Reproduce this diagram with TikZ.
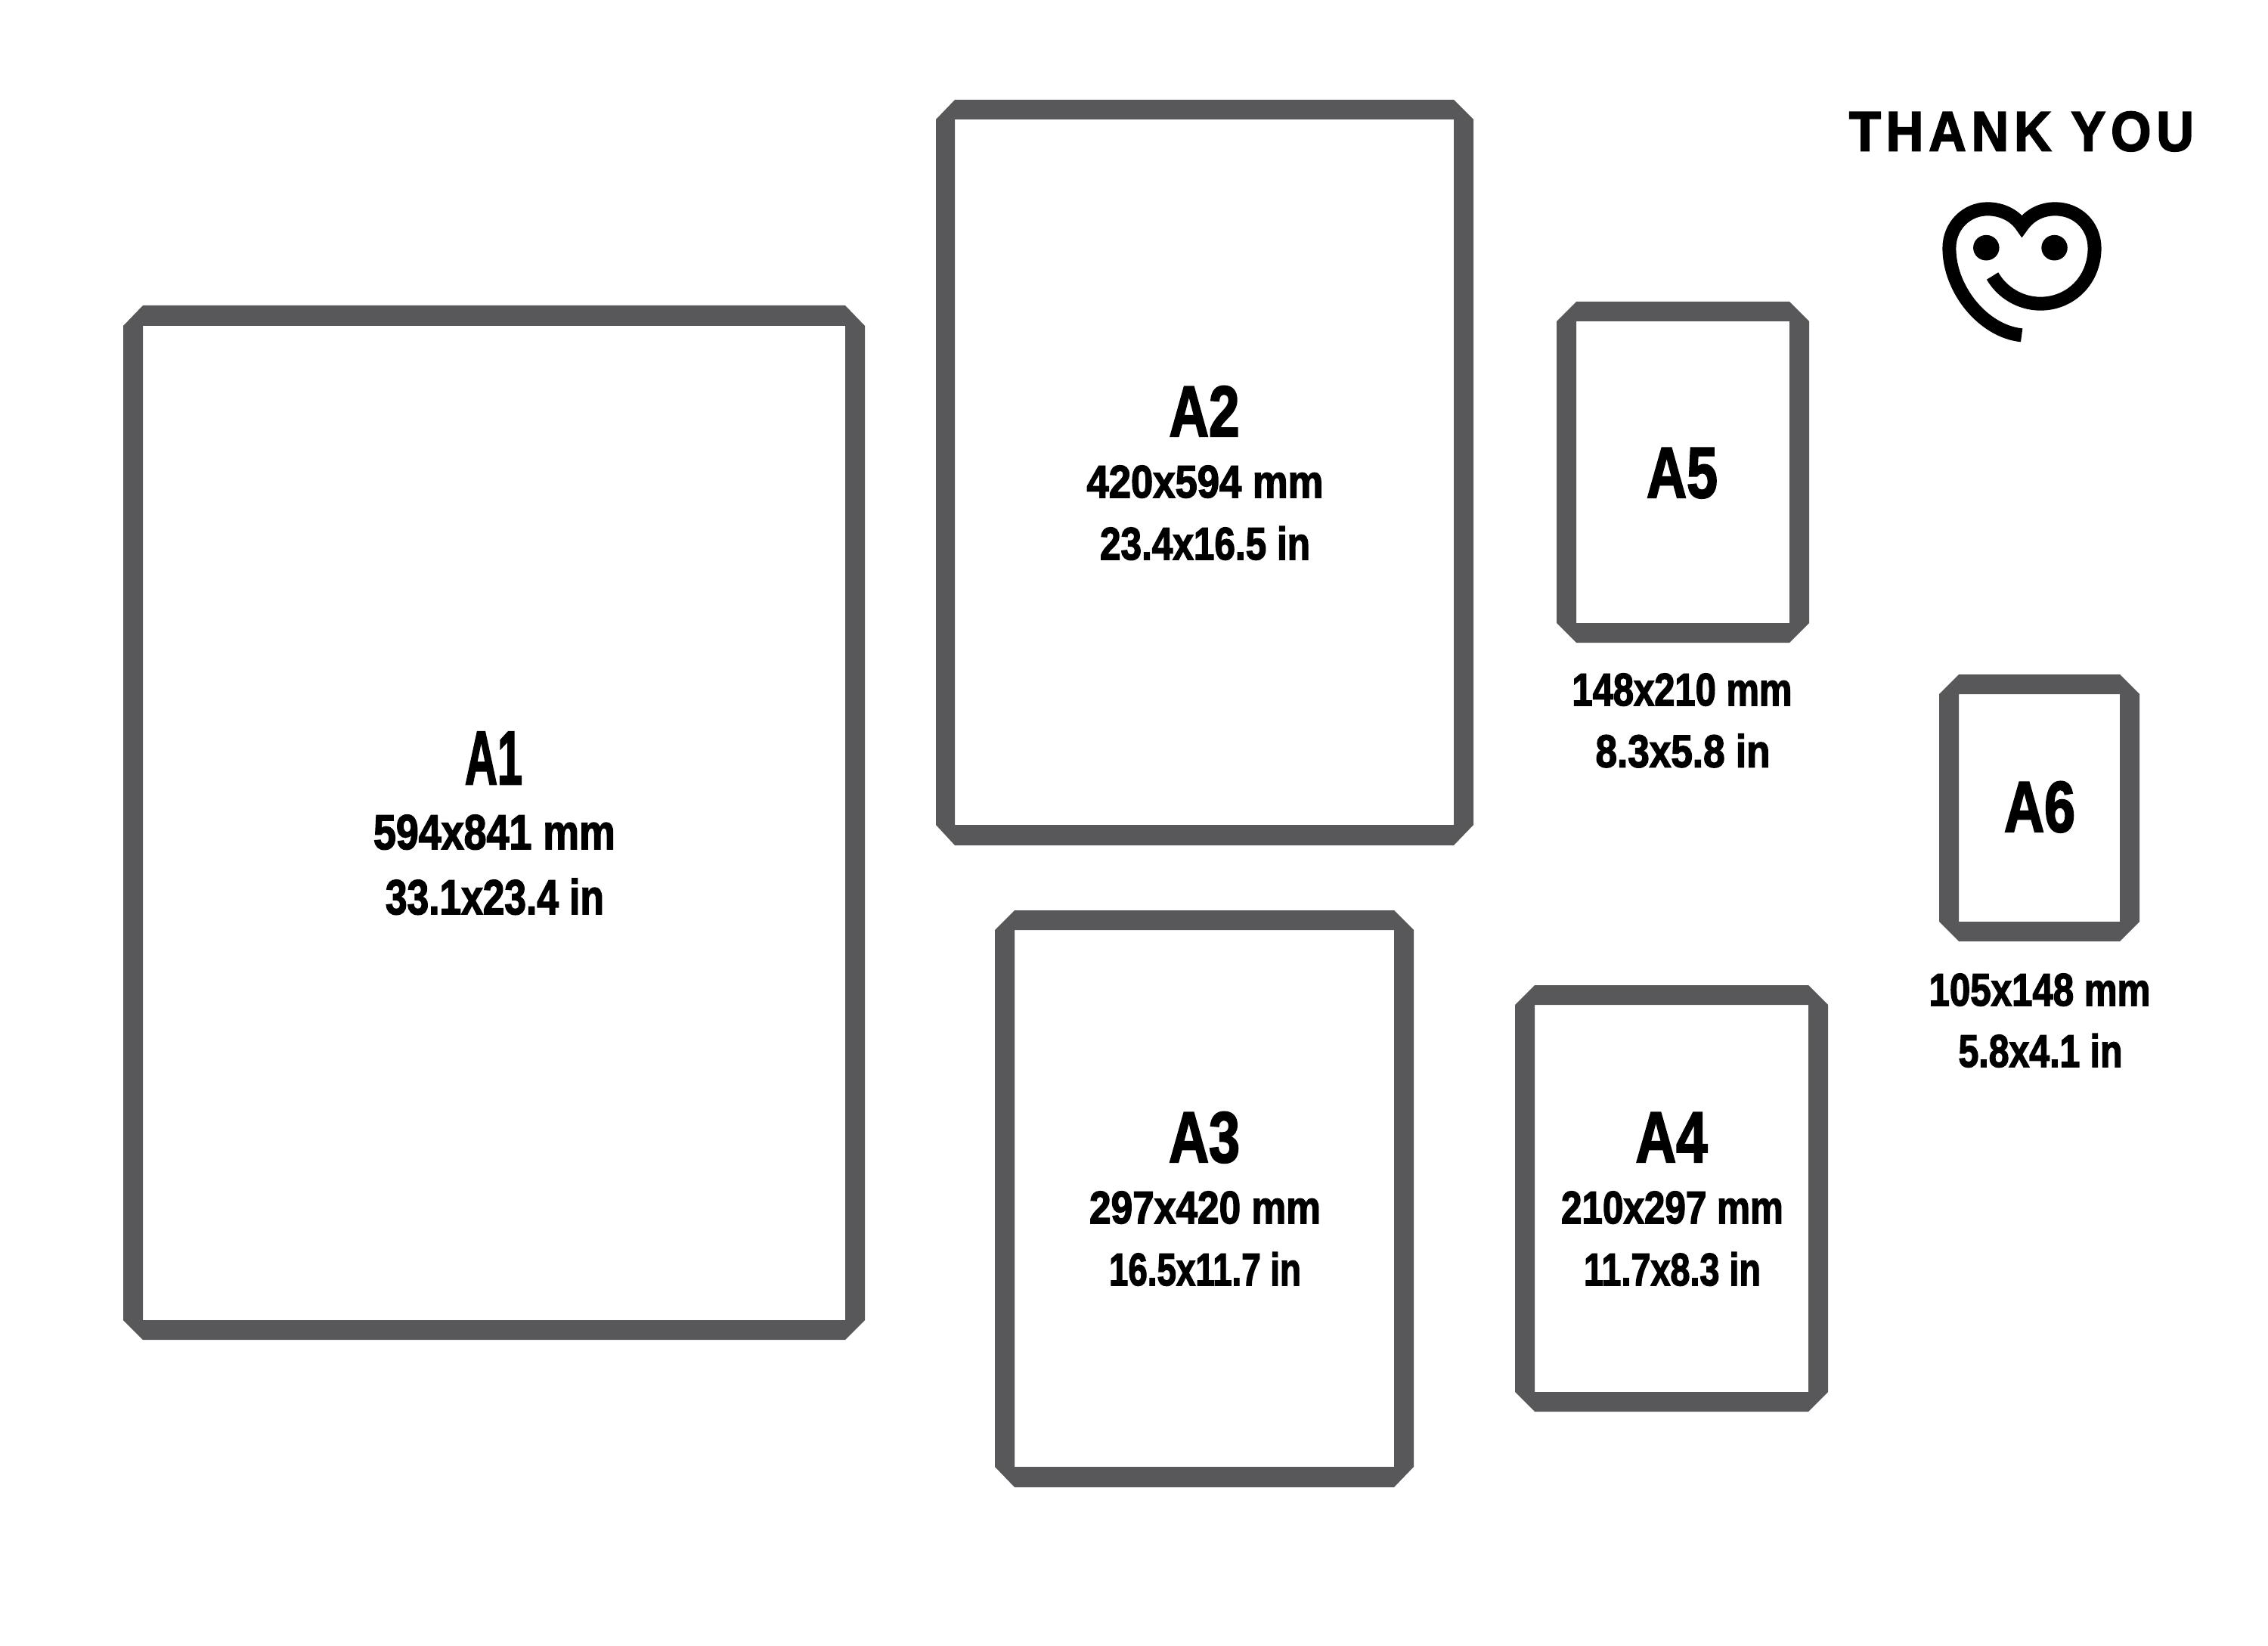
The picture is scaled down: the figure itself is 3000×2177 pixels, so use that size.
\documentclass[tikz,border=0pt]{standalone}
\usepackage{fontspec}
\usepackage{graphicx}
\setmainfont{Liberation Sans}[BoldFeatures={FakeBold=2.5}]
\definecolor{framegrey}{HTML}{58585A}
\newcommand{\fitw}[2]{\resizebox{\dimexpr #1pt/2\relax}{\height}{#2}}
% l t r b : outer edges; il it ir ib : inner edges
\newcommand{\paperframe}[8]{%
  \fill[framegrey,even odd rule]
    (#1,#6) -- (#5,#2) -- (#7,#2) -- (#3,#6) -- (#3,#8) -- (#7,#4) -- (#5,#4) -- (#1,#8) -- cycle
    (#5,#6) rectangle (#7,#8);}
\tikzset{
  titlelabel/.style={anchor=base,inner sep=0pt,font=\fontsize{47.5pt}{58pt}\selectfont\bfseries},
  bigtitle/.style={titlelabel,font=\fontsize{50pt}{60pt}\selectfont\bfseries},
  dimlabel/.style={anchor=base,inner sep=0pt,font=\fontsize{30.3pt}{37pt}\selectfont\bfseries},
  bigdim/.style={dimlabel,font=\fontsize{32.4pt}{39pt}\selectfont\bfseries},
  smileline/.style={draw=black,line width=9pt,line cap=butt,line join=miter,miter limit=10}
}
\begin{document}
\begin{tikzpicture}[x=0.5pt,y=-0.5pt]
\fill[white] (0,0) rectangle (3000,2177);
\useasboundingbox (0,0) rectangle (3000,2177);
% frames
\paperframe{163}{404}{1144}{1772}{189}{431}{1118}{1746}
\paperframe{1238}{132}{1949}{1118}{1263}{158}{1923}{1091}
\paperframe{1316}{1204}{1870}{1967}{1342}{1230}{1844}{1940}
\paperframe{2004}{1303}{2418}{1867}{2030}{1329}{2392}{1841}
\paperframe{2059}{399}{2393}{850}{2085}{425}{2367}{824}
\paperframe{2565}{892}{2830}{1245}{2591}{918}{2804}{1219}
% labels
\node[bigtitle] (t1) at (653,1037) {\fitw{76}{A1}};
\node[bigdim] (m1) at (654,1123) {\fitw{320}{594x841 mm}};
\node[bigdim] (i1) at (654.5,1209) {\fitw{289}{33.1x23.4 in}};
\node[titlelabel] (t2) at (1593,577) {\fitw{93}{A2}};
\node[dimlabel] (m2) at (1594,658) {\fitw{313}{420x594 mm}};
\node[dimlabel] (i2) at (1594,740) {\fitw{278}{23.4x16.5 in}};
\node[titlelabel] (t3) at (1593,1537) {\fitw{94}{A3}};
\node[dimlabel] (m3) at (1594,1618) {\fitw{306}{297x420 mm}};
\node[dimlabel] (i3) at (1594,1700) {\fitw{254}{16.5x11.7 in}};
\node[titlelabel] (t4) at (2211,1537) {\fitw{95}{A4}};
\node[dimlabel] (m4) at (2212,1618) {\fitw{294}{210x297 mm}};
\node[dimlabel] (i4) at (2212,1700) {\fitw{234}{11.7x8.3 in}};
\node[titlelabel] (t5) at (2225,658) {\fitw{94}{A5}};
\node[dimlabel] (m5) at (2225,933) {\fitw{291}{148x210 mm}};
\node[dimlabel] (i5) at (2226,1014.5) {\fitw{231}{8.3x5.8 in}};
\node[titlelabel] (t6) at (2698,1100) {\fitw{94}{A6}};
\node[dimlabel] (m6) at (2698,1330) {\fitw{293}{105x148 mm}};
\node[dimlabel] (i6) at (2699,1411) {\fitw{217}{5.8x4.1 in}};
% thank you
\node[anchor=base,inner sep=0pt,font=\fontsize{37.2pt}{45pt}\selectfont\bfseries\addfontfeatures{LetterSpace=10}] (thanks) at (2674,199.5) {\fitw{456}{THANK YOU}};
% smiley (coordinates in zoom units)
\begin{scope}[shift={(2400,100)},x=0.17219pt,y=-0.16667pt]
  \draw[smileline] (796,1030) .. controls (650,1015) and (518,850) .. (518,685)
    .. controls (518,595) and (585,529) .. (665,529)
    .. controls (720,529) and (770,555) .. (797,597)
    .. controls (825,555) and (870,529) .. (925,529)
    .. controls (1010,529) and (1076,595) .. (1076,685)
    .. controls (1076,810) and (985,905) .. (868,905)
    .. controls (790,905) and (720,860) .. (684,795);
  \fill[black] (660,683) circle [x radius=50,y radius=50.5];
  \fill[black] (922,683) circle [x radius=50,y radius=50.5];
\end{scope}
\end{tikzpicture}
\end{document}
